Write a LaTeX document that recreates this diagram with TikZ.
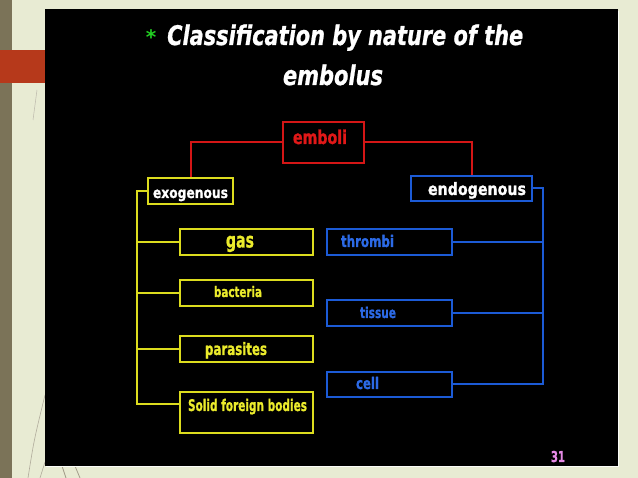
\documentclass[tikz,border=0pt]{standalone}
\usepackage{fontspec}
\setmainfont{DejaVu Sans}
\usepackage{graphicx}
\definecolor{cream}{HTML}{E8EBD3}
\definecolor{olivebar}{HTML}{7B7358}
\definecolor{slidered}{HTML}{B6391B}
\definecolor{myyellow}{HTML}{DCDC1E}
\definecolor{ytext}{HTML}{EBEB2C}
\definecolor{myred}{HTML}{D41616}
\definecolor{rtext}{HTML}{E01818}
\definecolor{myblue}{HTML}{1C5BD6}
\definecolor{btext}{HTML}{2C6AE6}
\definecolor{pinknum}{HTML}{E68AE6}
\definecolor{stargreen}{HTML}{22D022}
\newcommand\lbl[3]{\resizebox{#1pt}{\height}{\fontsize{#2}{#2}\selectfont\bfseries\addfontfeature{FakeBold=1.2}#3}}
\newcommand\ilbl[3]{\resizebox{#1pt}{\height}{\fontsize{#2}{#2}\selectfont\bfseries\itshape\addfontfeature{FakeBold=1}#3}}
\tikzset{
  boxbase/.style={rectangle, inner sep=0pt, line width=2pt},
  ybox/.style={boxbase, draw=myyellow},
  rbox/.style={boxbase, draw=myred},
  bbox/.style={boxbase, draw=myblue},
  yline/.style={draw=myyellow, line width=2pt},
  rline/.style={draw=myred, line width=2pt},
  bline/.style={draw=myblue, line width=2pt},
  txt/.style={inner sep=0pt, anchor=base},
}
\begin{document}
\begin{tikzpicture}[x=1pt,y=-1pt]
\useasboundingbox (0,0) rectangle (638,478);
% slide background
\fill[cream] (0,0) rectangle (638,478);
\fill[olivebar] (0,0) rectangle (12,478);
\draw[olivebar!50, line width=0.5pt] (33,120) -- (37,90);
\draw[olivebar!60, line width=0.6pt] (28,478) .. controls (34,440) .. (45,395);
\draw[olivebar!60, line width=0.6pt] (40,478) .. controls (42,470) .. (45,462);
\draw[olivebar!70, line width=0.8pt] (66,478) -- (62,466);
\draw[olivebar!70, line width=0.8pt] (80,478) -- (75,466);
\fill[slidered] (0,50) rectangle (45,83);
\fill[white!85!cream] (46,11) rectangle (619,467);
\fill[black] (45,9.5) rectangle (617.5,466);
% title
\node[txt, anchor=center, text=stargreen] (star) at (151,37) {\fontsize{20}{20}\selectfont\bfseries *};
\node[txt, anchor=base west, text=white] (title1) at (167,45) {\ilbl{356}{27}{Classification by nature of the}};
\node[txt, text=white] (title2) at (333,85) {\ilbl{100}{27}{embolus}};
% boxes
\node[rbox, minimum width=81pt, minimum height=41pt] (emboli) at (323.5,142.5) {};
\node[ybox, minimum width=85pt, minimum height=26pt] (exo) at (190.5,191) {};
\node[bbox, minimum width=121pt, minimum height=25pt] (endo) at (471.5,188.5) {};
\node[ybox, minimum width=133pt, minimum height=26pt] (gas) at (246.5,242) {};
\node[ybox, minimum width=133pt, minimum height=26pt] (bact) at (246.5,293) {};
\node[ybox, minimum width=133pt, minimum height=26pt] (para) at (246.5,349) {};
\node[ybox, minimum width=133pt, minimum height=41pt] (solid) at (246.5,412.5) {};
\node[bbox, minimum width=125pt, minimum height=26pt] (thrombi) at (389.5,242) {};
\node[bbox, minimum width=125pt, minimum height=26pt] (tissue) at (389.5,313) {};
\node[bbox, minimum width=125pt, minimum height=25pt] (cell) at (389.5,384.5) {};
% labels
\node[txt, text=rtext] (embolit) at (320,144) {\lbl{54}{19}{emboli}};
\node[txt, text=white] (exot) at (190.5,198) {\lbl{75}{15}{exogenous}};
\node[txt, text=white] (endot) at (477,195) {\lbl{98}{17}{endogenous}};
\node[txt, text=ytext] (gast) at (240,247.5) {\lbl{28}{21}{gas}};
\node[txt, text=ytext] (bactt) at (238,297) {\lbl{48}{14.5}{bacteria}};
\node[txt, text=ytext] (parat) at (236,355) {\lbl{62}{17}{parasites}};
\node[txt, text=ytext] (solidt) at (247.5,411) {\lbl{119}{16}{Solid foreign bodies}};
\node[txt, text=btext] (thrombit) at (367.5,247) {\lbl{53}{16}{thrombi}};
\node[txt, text=btext] (tissuet) at (378,318) {\lbl{36}{15}{tissue}};
\node[txt, text=btext] (cellt) at (367.5,389) {\lbl{23}{16}{cell}};
\node[txt, text=pinknum] (num) at (558,462) {\lbl{14}{15}{31}};
% connectors
\draw[rline] (emboli.west) -| (exo.north);
\draw[rline] (emboli.east) -| (endo.north);
\coordinate (ytrunk) at (137,191);
\coordinate (solidin) at (180,404);
\draw[yline] (exo.west) -- (ytrunk) |- (solidin);
\draw[yline] (ytrunk) |- (gas.west);
\draw[yline] (ytrunk) |- (bact.west);
\draw[yline] (ytrunk) |- (para.west);
\coordinate (btrunk) at (543,188.5);
\draw[bline] (endo.east) -- (btrunk) |- (cell.east);
\draw[bline] (btrunk) |- (thrombi.east);
\draw[bline] (btrunk) |- (tissue.east);
\end{tikzpicture}
\end{document}
